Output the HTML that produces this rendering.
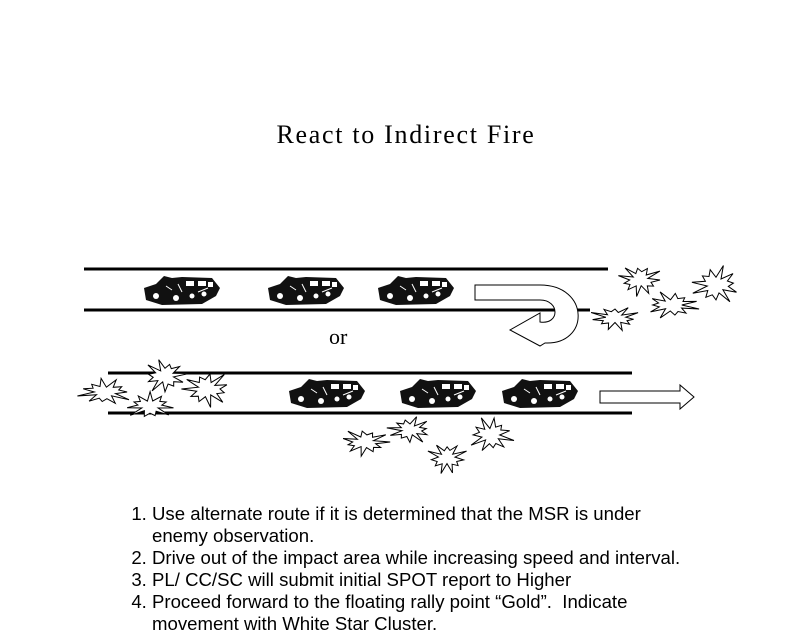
<!DOCTYPE html>
<html><head><meta charset="utf-8"><style>
html,body{margin:0;padding:0;background:#fff;width:812px;height:633px;overflow:hidden;position:relative}
.t{position:absolute;left:0;width:812px;text-align:center;top:120px;font-family:"Liberation Serif",serif;font-size:26px;letter-spacing:1.7px;color:#000}
.or{position:absolute;left:329px;top:324px;font-family:"Liberation Serif",serif;font-size:22px}
ol{position:absolute;left:110px;top:503px;width:540px;margin:0;padding-left:42px;font-family:"Liberation Sans",sans-serif;font-size:18.6px;line-height:22px;color:#000}
</style></head><body>
<div class="t">React to Indirect Fire</div>
<div class="or">or</div>
<svg id="s" width="812" height="633" style="position:absolute;left:0;top:0">
<g stroke="#000" stroke-width="3">
<line x1="84" y1="269" x2="608" y2="269"/><line x1="84" y1="310" x2="590" y2="310"/>
<line x1="108" y1="373" x2="632" y2="373"/><line x1="108" y1="413" x2="632" y2="413"/>
</g>
<path d="M475 285 L540 285 C590 285 590 345 545 343 L540 346 L510 330 L540 313 L540 322 C560 325 560 300 540 300 L475 300 Z" fill="#fff" stroke="#000" stroke-width="1"/>
<path d="M600 391 L680 391 L680 385 L694 397 L680 409 L680 403 L600 403 Z" fill="#fff" stroke="#000" stroke-width="1"/>
<g id="v"></g><g id="e"></g>
</svg>
<ol>
<li>Use alternate route if it is determined that the MSR is under enemy observation.</li>
<li>Drive out of the impact area while increasing speed and interval.</li>
<li>PL/ CC/SC will submit initial SPOT report to Higher</li>
<li>Proceed forward to the floating rally point “Gold”.&nbsp; Indicate movement with White Star Cluster.</li>
</ol>
<script>
var veh=[[142,274],[266,274],[376,274],[287,377],[398,377],[500,377]];
var vg=document.getElementById("v");
veh.forEach(function(p){
 var x=p[0],y=p[1];
 var s='<g transform="translate('+x+','+y+')">'+
 '<path d="M2 14 L14 10 L22 2 L30 4 L40 3 L70 4 L78 14 L74 22 L60 30 L20 31 L4 26 Z" fill="#111"/>'+
 '<rect x="44" y="7" width="8" height="5" fill="#fff"/><rect x="56" y="7" width="8" height="5" fill="#fff"/><rect x="66" y="8" width="5" height="5" fill="#fff"/>'+
 '<circle cx="14" cy="22" r="3" fill="#fff"/><circle cx="34" cy="24" r="3" fill="#fff"/><circle cx="50" cy="22" r="2.5" fill="#fff"/><circle cx="62" cy="20" r="2.5" fill="#fff"/>'+
 '<path d="M24 12 L30 16 M36 10 L40 18 M56 18 L66 14" stroke="#fff" stroke-width="1"/></g>';
 vg.insertAdjacentHTML("beforeend",s);
});
var ex=[[640,280,20,14],[716,285,22,17],[672,305,24,12],[615,318,22,11],[105,392,24,12],[165,376,20,15],[207,389,22,16],[150,406,22,12],[365,442,22,12],[410,430,20,12],[491,435,20,16],[447,458,18,14]];
var eg=document.getElementById("e"),h="";
ex.forEach(function(e,k){
 var n=11,pts=[];
 for(var i=0;i<n*2;i++){
  var a=i*Math.PI/n+k;
  var r=(i%2==0)?1:0.5;
  r*=1+0.2*Math.sin(i*2.3+k);
  pts.push((e[0]+Math.cos(a)*e[2]*r).toFixed(1)+","+(e[1]+Math.sin(a)*e[3]*r).toFixed(1));
 }
 h+='<polygon points="'+pts.join(" ")+'" fill="#fff" stroke="#000" stroke-width="1"/>';
});
eg.innerHTML=h;
</script>
</body></html>
